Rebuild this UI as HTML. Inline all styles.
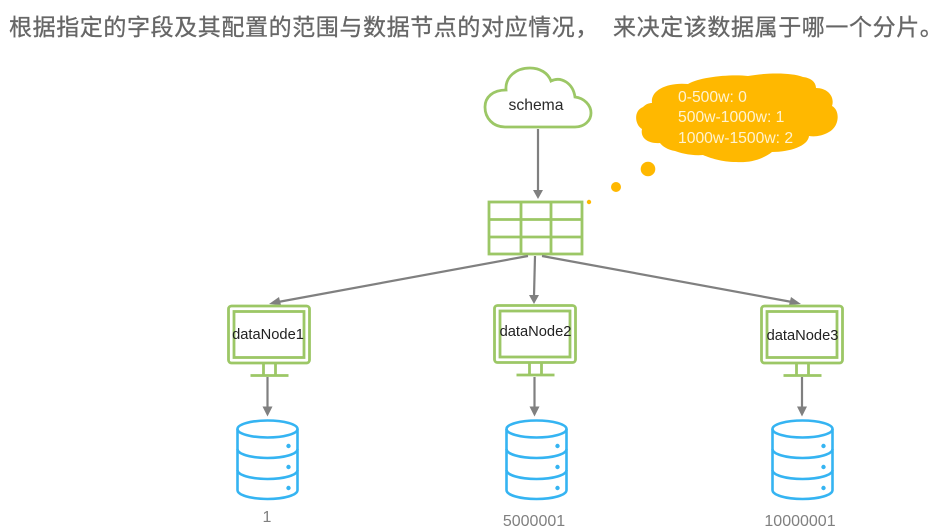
<!DOCTYPE html>
<html lang="zh">
<head>
<meta charset="utf-8">
<title>Diagram</title>
<style>
html,body{margin:0;padding:0;background:#fff;width:942px;height:529px;overflow:hidden}
svg{display:block}
text{font-family:"Liberation Sans","Noto Sans CJK SC",sans-serif}
.g{fill:none;stroke:#9CC766;stroke-width:2.8}
.b{fill:none;stroke:#35B4F2;stroke-width:2.6}
.l{stroke:#808080;stroke-width:2.200;fill:none}
.h{fill:#808080}
.t{font-size:14.700px;fill:#222;text-anchor:middle}
.n{font-size:16px;fill:#808080;text-anchor:middle}
.o{font-size:15.700px;fill:#fff3d0}
.hd{font-size:23px;fill:#666;stroke:#666;stroke-width:.3px;letter-spacing:.6px}
</style>
</head>
<body>
<svg width="942" height="529" viewBox="0 0 942 529" xmlns="http://www.w3.org/2000/svg">
<defs>
<g id="mon">
  <rect x="0" y="0" width="81" height="57" rx="3" class="g"/>
  <rect x="5.500" y="5.500" width="70" height="46" class="g"/>
  <path d="M35 57V69M47 57V69M22 69.500H60" class="g"/>
</g>
<g id="cyl">
  <path d="M0 9V70C0 75 13 79 30 79C47 79 60 75 60 70V9" class="b"/>
  <ellipse cx="30" cy="9" rx="30" ry="8.500" class="b"/>
  <path d="M0 29C0 34 13 38 30 38C47 38 60 34 60 29M0 50C0 55 13 59 30 59C47 59 60 55 60 50" class="b"/>
  <circle cx="51" cy="26" r="2.200" fill="#35B4F2"/>
  <circle cx="51" cy="47" r="2.200" fill="#35B4F2"/>
  <circle cx="51" cy="68" r="2.200" fill="#35B4F2"/>
</g>
</defs>

<text class="hd" x="9" y="35">根据指定的字段及其配置的范围与数据节点的对应情况，</text>
<text class="hd" x="613" y="35">来决定该数据属于哪一个分片。</text>

<!-- schema cloud -->
<path d="M505 127C493 127 485 118 485 107C485 97 493 90 506 90C505 77 516 68 530 68C540 68 548 73 551 81C561 76 573 83 575 97C584 98 591 105 591 113C591 121 584 127 575 127Z" fill="#fff" stroke="#9CC766" stroke-width="2.800"/>
<text x="536" y="110" font-size="15.700" fill="#2a2a2a" text-anchor="middle">schema</text>

<!-- orange thought bubble -->
<path d="M652 103C650 90 668 82 688 84C700 77 730 74 748 76C765 73 790 72 803 77C812 78 816 83 816 88C828 88 835 97 832 106C840 110 840 126 829 132C822 136 815 137 809 136C808 146 790 152 772 152C762 160 748 163 736 162C722 162 710 158 703 155C692 156 680 153 675 151C668 150 662 146 660 143C648 144 640 138 642 129C635 125 633 111 643 107C646 104 649 103 652 103Z" fill="#FFB800"/>
<text class="o" x="678" y="102">0-500w: 0</text>
<text class="o" x="678" y="122">500w-1000w: 1</text>
<text class="o" x="678" y="143">1000w-1500w: 2</text>
<circle cx="648" cy="169" r="7.300" fill="#FFB800"/>
<circle cx="616" cy="187" r="5" fill="#FFB800"/>
<circle cx="589" cy="202" r="2.200" fill="#FFB800"/>

<!-- table -->
<rect x="489" y="202" width="93" height="52" class="g"/>
<path d="M521 202V254M551 202V254M489 219.500H582M489 237H582" class="g"/>

<!-- connectors -->
<path d="M538 129V192" class="l"/>
<path class="h" d="M533 190H543L538 199Z"/>
<path d="M528 256L278 302" class="l"/>
<path class="h" d="M269 304L279 297L281 305Z"/>
<path d="M535 256L534 296" class="l"/>
<path class="h" d="M529 295H539L534 304Z"/>
<path d="M542 256L792 302" class="l"/>
<path class="h" d="M801 304L789 305L791 297Z"/>

<!-- monitors -->
<use href="#mon" x="228.500" y="306"/>
<use href="#mon" x="494.500" y="305.500"/>
<use href="#mon" x="761.500" y="306"/>
<text class="t" x="268" y="339">dataNode1</text>
<text class="t" x="535.500" y="336">dataNode2</text>
<text class="t" x="802.500" y="340">dataNode3</text>

<!-- node to db arrows -->
<path d="M267.500 377V409" class="l"/>
<path class="h" d="M262.500 406.500H272.500L267.500 416.500Z"/>
<path d="M534.500 377V409" class="l"/>
<path class="h" d="M529.500 406.500H539.500L534.500 416.500Z"/>
<path d="M802 377V409" class="l"/>
<path class="h" d="M797 406.500H807L802 416.500Z"/>

<!-- databases -->
<use href="#cyl" x="237.500" y="420"/>
<use href="#cyl" x="506.500" y="420"/>
<use href="#cyl" x="772.500" y="420"/>
<text class="n" x="267" y="522">1</text>
<text class="n" x="534" y="526">5000001</text>
<text class="n" x="800" y="526">10000001</text>
</svg>
</body>
</html>
